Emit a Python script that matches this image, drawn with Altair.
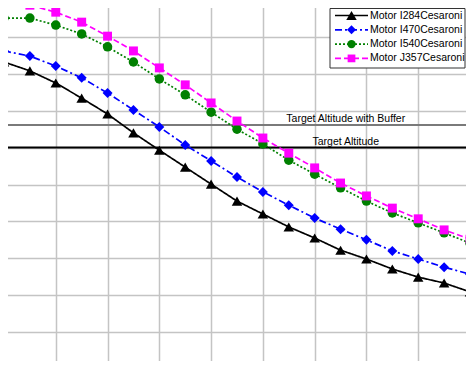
import altair as alt
import pandas as pd

x_vals = [0, 1, 2, 3, 4, 5, 6, 7, 8, 9, 10, 11, 12, 13, 14, 15, 16, 17, 18]

series_names = ["Motor I284Cesaroni", "Motor I470Cesaroni", "Motor I540Cesaroni", "Motor J357Cesaroni"]

i284 = [8.32, 8.08, 7.75, 7.34, 6.91, 6.40, 5.93, 5.47, 5.01, 4.55, 4.20, 3.85, 3.55, 3.22, 2.98, 2.71, 2.49, 2.33, 2.09]
i470 = [8.62, 8.48, 8.21, 7.89, 7.48, 7.02, 6.56, 6.07, 5.64, 5.20, 4.80, 4.44, 4.09, 3.79, 3.50, 3.20, 2.98, 2.76, 2.57]
i540 = [9.51, 9.51, 9.32, 9.08, 8.73, 8.32, 7.86, 7.43, 6.96, 6.50, 6.10, 5.66, 5.28, 4.91, 4.55, 4.23, 3.96, 3.69, 3.41]
j357 = [9.92, 9.86, 9.67, 9.40, 9.02, 8.62, 8.16, 7.70, 7.21, 6.72, 6.26, 5.85, 5.45, 5.04, 4.69, 4.36, 4.07, 3.77, 3.52]

target_altitude = 6.0
target_buffer = 6.61
label_x = 13.2

colors = ["#000000", "#0000ff", "#008000", "#ff00ff"]
shapes = ["triangle-up", "diamond", "circle", "square"]
dashes = [[1, 0], [7, 3, 2, 3], [2, 2], [6, 3]]
sizes = [110, 80, 70, 60]

rows = []
for name, vals in zip(series_names, [i284, i470, i540, j357]):
    for xv, yv in zip(x_vals, vals):
        rows.append({"x": xv, "y": yv, "motor": name})
df = pd.DataFrame(rows)

xs = alt.Scale(domain=[0, 18], nice=False, zero=False)
ys = alt.Scale(domain=[0, 10], nice=False, zero=False)
xax = alt.Axis(values=[0, 2, 4, 6, 8, 10, 12, 14, 16, 18], labels=False, ticks=False, domain=False, title=None,
               grid=True, gridColor="#c4c4c4", gridWidth=1.5)
yax = alt.Axis(values=[0, 1, 2, 3, 4, 5, 6, 7, 8, 9, 10], labels=False, ticks=False, domain=False, title=None,
               grid=True, gridColor="#c4c4c4", gridWidth=1.5)

X = alt.X("x:Q", scale=xs, axis=xax)
Y = alt.Y("y:Q", scale=ys, axis=yax)

cscale = alt.Scale(domain=series_names, range=colors)
base = alt.Chart(df)

lines = base.mark_line(strokeWidth=1.7).encode(
    x=X, y=Y,
    color=alt.Color("motor:N", scale=cscale, legend=None),
    strokeDash=alt.StrokeDash("motor:N", scale=alt.Scale(domain=series_names, range=dashes), legend=None),
)
points = base.mark_point(filled=True, opacity=1).encode(
    x=X, y=Y,
    color=alt.Color("motor:N", scale=cscale, legend=None),
    shape=alt.Shape("motor:N", scale=alt.Scale(domain=series_names, range=shapes), legend=None),
    size=alt.Size("motor:N", scale=alt.Scale(domain=series_names, range=sizes), legend=None),
)

tdf = pd.DataFrame({"y": [target_altitude, target_buffer],
                    "label": ["Target Altitude", "Target Altitude with Buffer"],
                    "x": [label_x, label_x]})
target_rule = alt.Chart(tdf.iloc[[0]]).mark_rule(color="#000000", strokeWidth=2).encode(y=Y)
buffer_rule = alt.Chart(tdf.iloc[[1]]).mark_rule(color="#7a7a7a", strokeWidth=2).encode(y=Y)
t_text = alt.Chart(tdf.iloc[[0]]).mark_text(font="Liberation Sans", fontSize=10.5, color="#000", dy=-3,
                                            baseline="alphabetic", align="center").encode(
    x=X, y=Y, text="label:N")
b_text = alt.Chart(tdf.iloc[[1]]).mark_text(font="Liberation Sans", fontSize=10.5, color="#000", dy=-3,
                                            baseline="alphabetic", align="center").encode(
    x=X, y=Y, text="label:N")

# Manual legend
ldf = pd.DataFrame({"motor": series_names})
legend_box = alt.Chart(ldf.iloc[[0]]).mark_rect(fill="white", stroke="#333333", strokeWidth=1).encode(
    x=alt.value(326), x2=alt.value(461), y=alt.value(8.5), y2=alt.value(68))
legend_layers = [legend_box]
for k, name in enumerate(series_names):
    yy = 15.5 + 14.3 * k
    sub = alt.Chart(ldf.iloc[[k]])
    legend_layers.append(sub.mark_rule(color=colors[k], strokeWidth=1.7, strokeDash=dashes[k]).encode(
        x=alt.value(331), x2=alt.value(364), y=alt.value(yy)))
    legend_layers.append(sub.mark_point(filled=True, opacity=1, color=colors[k], shape=shapes[k], size=sizes[k]).encode(
        x=alt.value(347.5), y=alt.value(yy)))
    legend_layers.append(sub.mark_text(font="Liberation Sans", fontSize=10.5, color="#000", align="left",
                                       baseline="middle").encode(
        x=alt.value(366), y=alt.value(yy), text="motor:N"))

chart = alt.layer(buffer_rule, target_rule, lines, points, b_text, t_text, *legend_layers).properties(
    width=466, height=369,
    autosize=alt.AutoSizeParams(type="none"),
    padding={"left": -4, "top": -8, "right": -4, "bottom": -8},
).configure_view(stroke="#b0b0b0", strokeWidth=1.5)

chart.save("out.html", embed_options={"renderer": "svg", "actions": False})
